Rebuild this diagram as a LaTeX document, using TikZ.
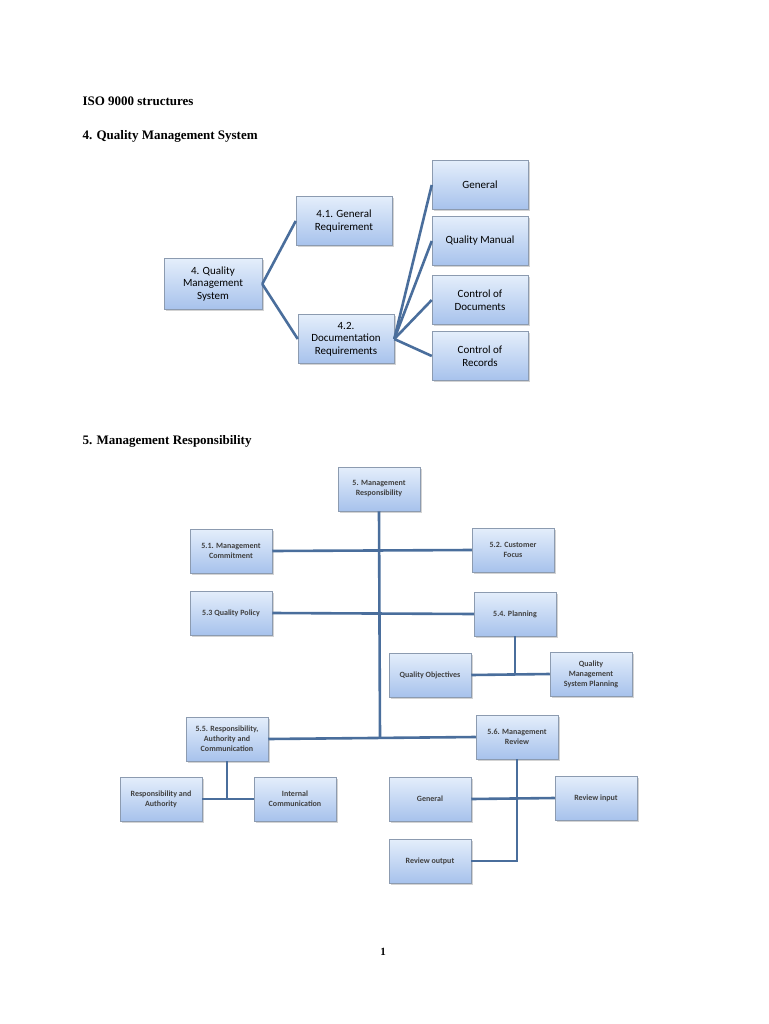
\documentclass[tikz,border=0pt]{standalone}
\usepackage{fontspec}
\setmainfont{Liberation Serif}
\newfontfamily\carl{Carlito}
\usetikzlibrary{shadows}
\definecolor{ln}{HTML}{4A6E9C}
\definecolor{bt}{HTML}{E4EEFB}
\definecolor{bb}{HTML}{A7C2EC}
\definecolor{bd}{HTML}{8C9BB0}
\begin{document}
\begin{tikzpicture}[x=1pt,y=-1pt,
 bx/.style={draw=bd,line width=0.5pt,top color=bt,bottom color=bb,align=center,inner sep=1pt,
   drop shadow={shadow xshift=1.5pt,shadow yshift=-1.5pt,opacity=0.35,fill=gray}},
 big/.style={bx,minimum width=96pt,minimum height=49pt,font=\carl\fontsize{11}{12.5}\selectfont},
 sm/.style={bx,minimum width=82pt,minimum height=44pt,font=\carl\bfseries\fontsize{8}{10}\selectfont,text=black!75},
 cn/.style={ln,line width=2.6pt},
 hd/.style={anchor=west,font=\bfseries\fontsize{13}{15}\selectfont}]
\useasboundingbox (0,0) rectangle (768,1024);
\node[hd] (h0) at (79,101) {ISO 9000 structures};
\node[hd] (h1) at (79,136) {4. Quality Management System};
\node[hd] (h2) at (79,441) {5. Management Responsibility};
\node[font=\bfseries\fontsize{11}{13}\selectfont] (pg) at (383,952) {1};
% diagram 1
\node[big,minimum width=98pt,minimum height=51pt] (q) at (213,284) {4. Quality\\Management\\System};
\node[big] (g1) at (344,221) {4.1. General\\Requirement};
\node[big] (d) at (346,339) {4.2.\\Documentation\\Requirements};
\node[big] (c1) at (480,185) {General};
\node[big] (c2) at (480,241) {Quality Manual};
\node[big] (c3) at (480,300) {Control of\\Documents};
\node[big] (c4) at (480,356) {Control of\\Records};
\draw[cn] (q.east) -- (g1.west);
\draw[cn] (q.east) -- (d.west);
\foreach \c in {c1,c2,c3,c4} \draw[cn] (d.east) -- (\c.west);
% diagram 2
\node[sm] (mr) at (379,489) {5. Management\\Responsibility};
\node[sm] (a1) at (231,551) {5.1. Management\\Commitment};
\node[sm] (a2) at (513,550) {5.2. Customer\\Focus};
\node[sm] (a3) at (231,613) {5.3 Quality Policy};
\node[sm] (a4) at (515,614) {5.4. Planning};
\node[sm] (qo) at (430,675) {Quality Objectives};
\node[sm] (qp) at (591,674) {Quality\\Management\\System Planning};
\node[sm] (a5) at (227,739) {5.5. Responsibility,\\Authority and\\Communication};
\node[sm] (a6) at (517,737) {5.6. Management\\Review};
\node[sm] (ra) at (161,799) {Responsibility and\\Authority};
\node[sm] (ic) at (295,799) {Internal\\Communication};
\node[sm] (gn) at (430,799) {General};
\node[sm] (ri) at (596,798) {Review input};
\node[sm] (ro) at (430,861) {Review output};
\coordinate (t1) at (380,551);
\coordinate (t2) at (380,613);
\coordinate (t3) at (380,738);
\coordinate (p1) at (515,675);
\coordinate (s1) at (227,799);
\coordinate (r1) at (517,799);
\coordinate (r2) at (517,861);
\draw[cn] (mr.south) -- (t3);
\draw[cn] (a1.east) -- (a2.west);
\draw[cn] (a3.east) -- (a4.west);
\draw[cn] (a5.east) -- (a6.west);
\draw[cn] (a4.south) -- (p1);
\draw[cn] (qo.east) -- (qp.west);
\draw[cn] (a5.south) -- (s1);
\draw[cn] (ra.east) -- (ic.west);
\draw[cn] (a6.south) -- (r2) -- (ro.east);
\draw[cn] (gn.east) -- (ri.west);
\end{tikzpicture}
\end{document}
